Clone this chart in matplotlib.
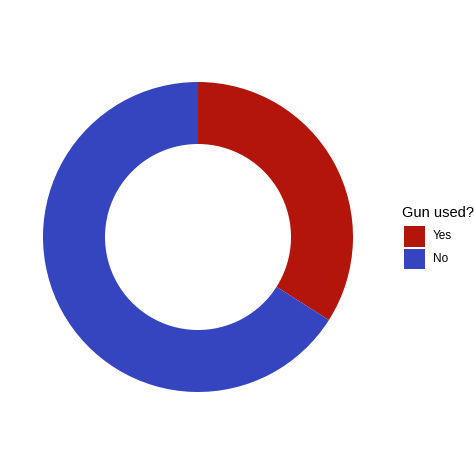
import matplotlib
matplotlib.use("Agg")
import matplotlib.pyplot as plt
from matplotlib.patches import Rectangle

plt.rcParams['font.family'] = ['Liberation Sans', 'DejaVu Sans']

labels = ["Yes", "No"]
shares = [0.34, 0.66]
colors = ["#B3150A", "#3545C0"]
legend_title = "Gun used?"

W = 474
fig = plt.figure(figsize=(4.74, 4.74), dpi=100)
cx, cy, r = 198, 237, 155
ax = fig.add_axes([(cx - r) / W, (W - cy - r) / W, 2 * r / W, 2 * r / W])
ax.pie(shares, colors=colors, startangle=90, counterclock=False,
       radius=1, wedgeprops=dict(width=0.4, linewidth=0))
ax.set_xlim(-1, 1)
ax.set_ylim(-1, 1)
ax.set_aspect("equal")
ax.axis("off")

# legend drawn by hand, in pixel positions from the top-left corner
def fx(px):
    return px / W

def fy(py):
    return 1 - py / W

fig.text(fx(402), fy(217), legend_title, fontsize=10.5, ha="left", va="baseline")
key_w, key_h, step = 21, 20.5, 22.5
for i, (lab, col) in enumerate(zip(labels, colors)):
    top = 226 + i * step
    fig.add_artist(Rectangle((fx(404), fy(top + key_h)), key_w / W, key_h / W,
                             transform=fig.transFigure, facecolor=col,
                             edgecolor="none"))
    fig.text(fx(433), fy(top + key_h / 2), lab, fontsize=8.5,
             ha="left", va="center")

fig.savefig("out.png", dpi=100)
